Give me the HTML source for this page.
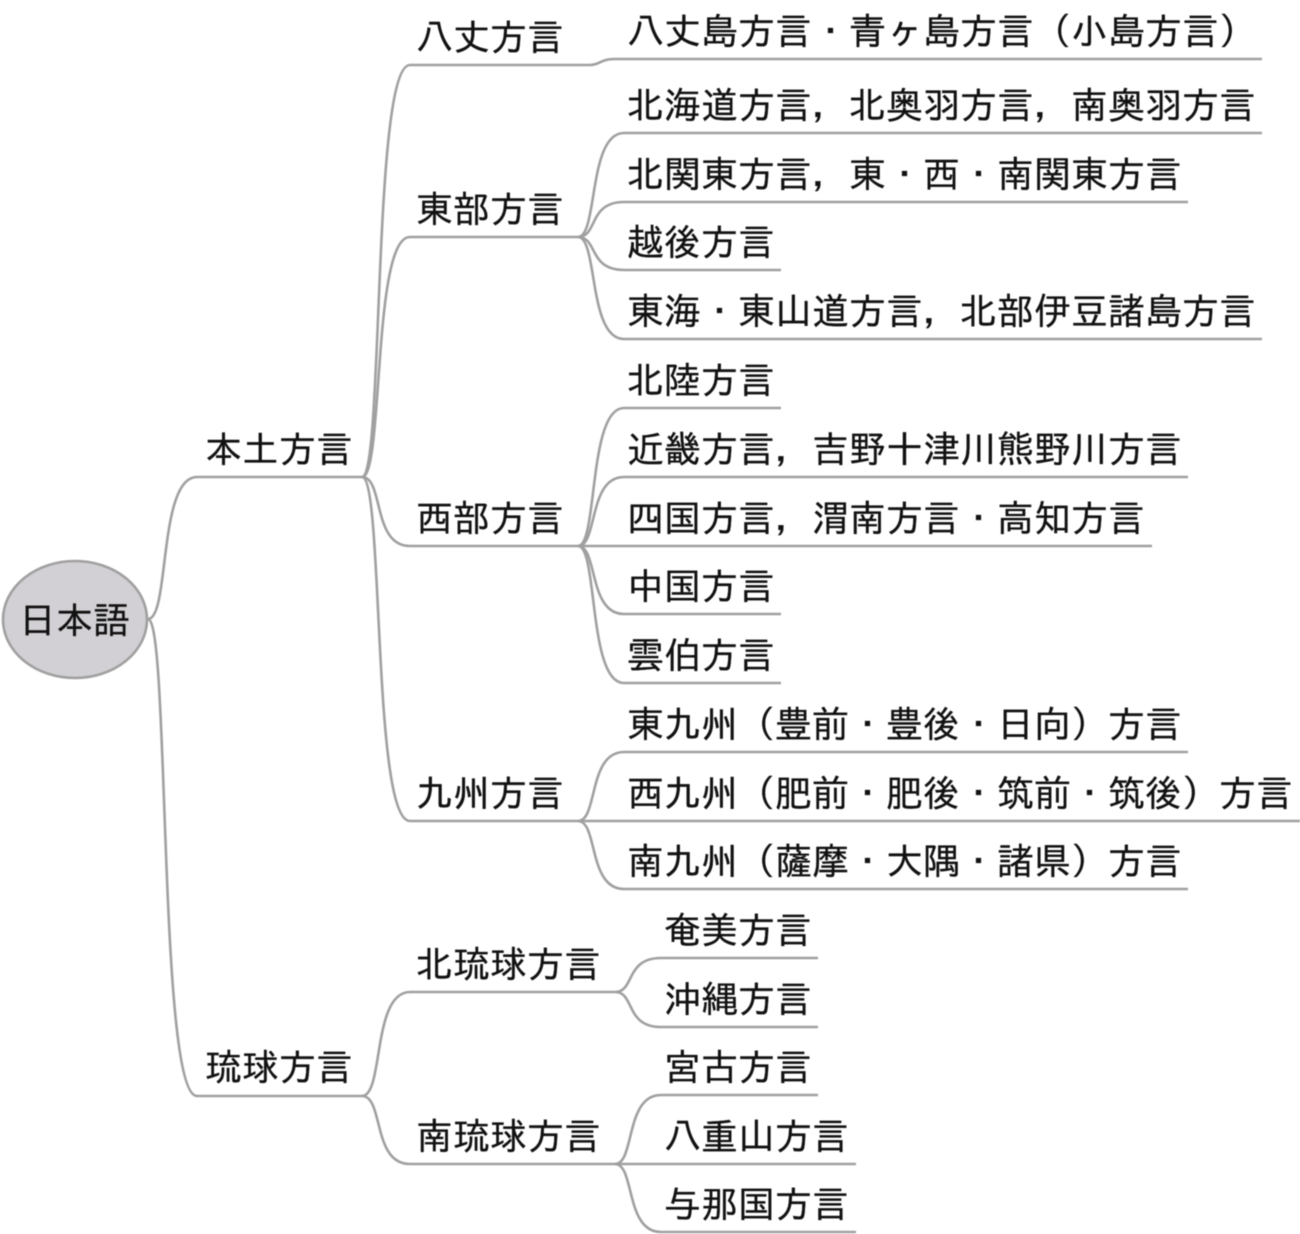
<!DOCTYPE html>
<html lang="ja"><head><meta charset="utf-8"><style>
html,body{margin:0;padding:0;background:#fff;width:1300px;height:1234px;overflow:hidden}
svg{display:block;filter:blur(0.5px)}
text{font-family:"Liberation Sans","IPAGothic","Noto Sans CJK JP",sans-serif;font-size:37px;fill:#111;stroke:#111;stroke-width:0.3}
path,line{fill:none;stroke:#a0a0a0;stroke-width:2.6}
</style></head><body>
<svg width="1300" height="1234" viewBox="0 0 1300 1234" xmlns="http://www.w3.org/2000/svg">
<ellipse cx="75" cy="619.5" rx="72" ry="58.5" fill="#d2d0d4" stroke="#a0a0a0" stroke-width="2.6"/>
<path d="M148 619C170 619 158 477 197 477H362"/>
<path d="M148 619C170 619 158 1096 197 1096H362"/>
<path d="M362 477C384 477 372 65 410 65H590C600 65 600 59 615 59H1262"/>
<path d="M362 477C384 477 372 237 410 237H578"/>
<path d="M362 477C384 477 372 546 410 546H578"/>
<path d="M362 477C384 477 372 821 410 821H578"/>
<path d="M362 1096C384 1096 372 992 410 992H615"/>
<path d="M362 1096C384 1096 372 1164 410 1164H615"/>
<path d="M578 237C598 237 588 133 624 133H1262"/>
<path d="M578 237C598 237 588 202 624 202H1188"/>
<path d="M578 237C598 237 588 270 624 270H781"/>
<path d="M578 237C598 237 588 339 624 339H1262"/>
<path d="M578 546C598 546 588 408 624 408H781"/>
<path d="M578 546C598 546 588 477 624 477H1188"/>
<path d="M578 546H1152"/>
<path d="M578 546C598 546 588 614 624 614H781"/>
<path d="M578 546C598 546 588 683 624 683H781"/>
<path d="M578 821C598 821 588 752 624 752H1188"/>
<path d="M578 821H1300"/>
<path d="M578 821C598 821 588 889 624 889H1188"/>
<path d="M615 992C635 992 625 958 661 958H818"/>
<path d="M615 992C635 992 625 1027 661 1027H818"/>
<path d="M615 1164C635 1164 625 1095 661 1095H818"/>
<path d="M615 1164H856"/>
<path d="M615 1164C635 1164 625 1232 661 1232H856"/>
<g transform="translate(1,0.5)">
<text x="18" y="633">日本語</text>
<text x="204" y="462">本土方言</text>
<text x="204" y="1080">琉球方言</text>
<text x="415" y="50">八丈方言</text>
<text x="415" y="222">東部方言</text>
<text x="415" y="531">西部方言</text>
<text x="415" y="806">九州方言</text>
<text x="415" y="977">北琉球方言</text>
<text x="415" y="1149">南琉球方言</text>
<text x="626" y="44">八丈島方言・青ヶ島方言（小島方言）</text>
<text x="626" y="118">北海道方言，北奥羽方言，南奥羽方言</text>
<text x="626" y="187">北関東方言，東・西・南関東方言</text>
<text x="626" y="255">越後方言</text>
<text x="626" y="324">東海・東山道方言，北部伊豆諸島方言</text>
<text x="626" y="393">北陸方言</text>
<text x="626" y="462">近畿方言，吉野十津川熊野川方言</text>
<text x="626" y="531">四国方言，渭南方言・高知方言</text>
<text x="626" y="599">中国方言</text>
<text x="626" y="668">雲伯方言</text>
<text x="626" y="737">東九州（豊前・豊後・日向）方言</text>
<text x="626" y="806">西九州（肥前・肥後・筑前・筑後）方言</text>
<text x="626" y="874">南九州（薩摩・大隅・諸県）方言</text>
<text x="663" y="943">奄美方言</text>
<text x="663" y="1012">沖縄方言</text>
<text x="663" y="1080">宮古方言</text>
<text x="663" y="1149">八重山方言</text>
<text x="663" y="1217">与那国方言</text>
</g>
</svg>
</body></html>
